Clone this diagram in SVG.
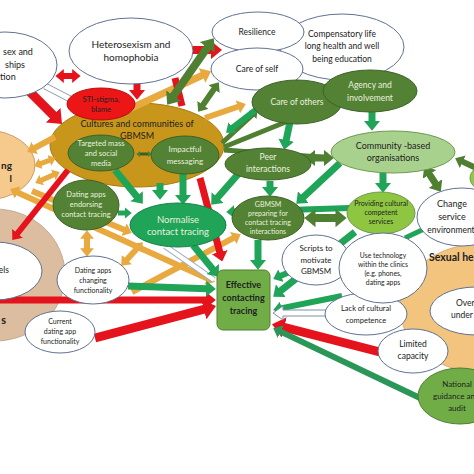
<svg xmlns="http://www.w3.org/2000/svg" width="474" height="474" viewBox="0 0 474 474">
<style>
text{font-family:Lato,"Liberation Sans",sans-serif;text-anchor:middle;fill:#222}
.s{text-anchor:start}
.e{text-anchor:end}
.b{font-weight:bold}
.w{fill:#fff;stroke:#5f7291;stroke-width:1}
.dg{fill:#548235;stroke:#3d6127;stroke-width:1}
.mg{fill:#70ad47;stroke:#507e32;stroke-width:1}
.lt{fill:#e8f1df}
.c path{fill:none}
.r{stroke:#e5131c}
.o{stroke:#4f7f30}
.g{stroke:#1fa458}
.y{stroke:#e8a93e}
.n{stroke:#2a9657}
</style>
<defs>
<marker id="hr" viewBox="0 0 10 10" refX="1" refY="5" markerWidth="1.4" markerHeight="2.3" markerUnits="strokeWidth" orient="auto-start-reverse" preserveAspectRatio="none"><path d="M0,0L10,5L0,10z" fill="#e5131c"/></marker>
<marker id="ho" viewBox="0 0 10 10" refX="1" refY="5" markerWidth="1.4" markerHeight="2.3" markerUnits="strokeWidth" orient="auto-start-reverse" preserveAspectRatio="none"><path d="M0,0L10,5L0,10z" fill="#4f7f30"/></marker>
<marker id="hg" viewBox="0 0 10 10" refX="1" refY="5" markerWidth="1.4" markerHeight="2.3" markerUnits="strokeWidth" orient="auto-start-reverse" preserveAspectRatio="none"><path d="M0,0L10,5L0,10z" fill="#1fa458"/></marker>
<marker id="hy" viewBox="0 0 10 10" refX="1" refY="5" markerWidth="1.4" markerHeight="2.3" markerUnits="strokeWidth" orient="auto-start-reverse" preserveAspectRatio="none"><path d="M0,0L10,5L0,10z" fill="#e8a93e"/></marker>
<marker id="hn" viewBox="0 0 10 10" refX="1" refY="5" markerWidth="1.4" markerHeight="2.3" markerUnits="strokeWidth" orient="auto-start-reverse" preserveAspectRatio="none"><path d="M0,0L10,5L0,10z" fill="#2a9657"/></marker>
</defs>
<rect width="474" height="474" fill="#fff"/>

<g id="left-orange"><ellipse cx="-15" cy="165" rx="50" ry="35" fill="#f6c98c" stroke="#c9a066"/><text class="e b" x="12" y="169" font-size="10">ng</text><text class="e b" x="12" y="182" font-size="10">l</text></g>
<g id="left-tan"><ellipse cx="-5" cy="275" rx="70" ry="66" fill="#dcbd9f" stroke="#b7a08a" stroke-width="0.8"/><text class="e b" x="6" y="324" font-size="11">s</text></g>
<g id="sexual-health"><ellipse cx="480" cy="308" rx="80" ry="64" fill="#f3c47e" stroke="#d2a565" stroke-width="0.8"/><text class="s b" x="429" y="261" font-size="10.5">Sexual he</text></g>
<g id="cultures"><ellipse cx="137" cy="145" rx="87" ry="42" fill="#c8961a" stroke="#a67b10"/><text x="137" y="127" font-size="9" fill="#2e2400">Cultures and communities of</text><text x="137" y="139" font-size="9" fill="#2e2400">GBMSM</text></g>

<g id="connectors" class="c">
<path class="y" stroke-width="7" d="M125,111L203,75" marker-end="url(#hy)"/>
<path class="y" stroke-width="6" d="M205,118L238.6,106.5" marker-end="url(#hy)"/>
<path class="y" stroke-width="6" d="M55,137L34,148.3" marker-end="url(#hy)"/>
<path class="y" stroke-width="5" d="M40,163.8L50,160.2" marker-start="url(#hy)" marker-end="url(#hy)"/>
<path class="y" stroke-width="5" d="M41,180.4L54,174.6" marker-start="url(#hy)" marker-end="url(#hy)"/>
<path class="y" stroke-width="6" d="M17,192.2L208,278.8" marker-start="url(#hy)" marker-end="url(#hy)"/>
<path class="y" stroke-width="6" d="M32,191L124.8,230" marker-end="url(#hy)"/>
<path class="y" stroke-width="6" d="M87,237.8L87,249.2" marker-start="url(#hy)" marker-end="url(#hy)"/>
<path class="y" stroke-width="6" d="M137.7,247.8L126.3,260.2" marker-start="url(#hy)" marker-end="url(#hy)"/>
<path class="y" stroke-width="6" d="M132,292L234,237.7" marker-end="url(#hy)"/>
<path stroke="#8a9ab3" stroke-width="7" d="M45,86L72,100"/>
<path stroke="#fff" stroke-width="5" d="M45,86L72,100"/>
<path stroke="#9aa8c0" stroke-width="6" d="M165,246L214,280"/>
<path stroke="#fff" stroke-width="4" d="M165,246L214,280"/>
<path class="r" stroke-width="7" d="M137,83L137,91" marker-end="url(#hr)"/>
<path class="r" stroke-width="6" d="M63,76L73,76" marker-start="url(#hr)" marker-end="url(#hr)"/>
<path class="r" stroke-width="9" d="M30,92L54,116" marker-end="url(#hr)"/>
<path class="r" stroke-width="8" d="M190,50L212,50" marker-end="url(#hr)"/>
<path class="r" stroke-width="7" d="M175,78L182,106M200,178L220,253" marker-end="url(#hr)"/>
<path class="r" stroke-width="6" d="M68,170L17,234" marker-end="url(#hr)"/>
<path class="r" stroke-width="7" d="M-5,300L207,300" marker-end="url(#hr)"/>
<path class="r" stroke-width="9" d="M95,338L205,309" marker-end="url(#hr)"/>
<path class="r" stroke-width="9" d="M380,352L283,327" marker-end="url(#hr)"/>
<path class="o" stroke-width="8" d="M173,96.5L208,46.5" marker-start="url(#ho)" marker-end="url(#ho)"/>
<path class="o" stroke-width="6" d="M202.5,105.6L214.5,88.4" marker-start="url(#ho)" marker-end="url(#ho)"/>
<path class="o" stroke-width="5" d="M222,143L253,114.5" marker-end="url(#ho)"/>
<path class="o" stroke-width="5" d="M224,147L324,106.5" marker-end="url(#ho)"/>
<path class="o" stroke-width="5" d="M224,150L326.5,157.5" marker-end="url(#ho)"/>
<path class="g" stroke-width="6" d="M258,108L232,128.2" marker-end="url(#hg)"/>
<path class="g" stroke-width="7" d="M290,122L286,141" marker-end="url(#hg)"/>
<path class="g" stroke-width="7" d="M372,112L372,122" marker-end="url(#hg)"/>
<path class="o" stroke-width="7" d="M314,158L325,158" marker-start="url(#ho)" marker-end="url(#ho)"/>
<path class="g" stroke-width="7" d="M270,181L270,188" marker-end="url(#hg)"/>
<path class="g" stroke-width="7" d="M340,163L302.7,197.8" marker-end="url(#hg)"/>
<path class="g" stroke-width="7" d="M383,172L383,184" marker-end="url(#hg)"/>
<path class="o" stroke-width="7" d="M429,173.6L436,184.4" marker-start="url(#ho)" marker-end="url(#ho)"/>
<path class="g" stroke-width="6" d="M350,208L233.8,211.7" marker-end="url(#hg)"/>
<path class="o" stroke-width="8" d="M314.4,218L336.6,218" marker-start="url(#ho)" marker-end="url(#ho)"/>
<path class="g" stroke-width="7" d="M258,240L258,261" marker-end="url(#hg)"/>
<path class="g" stroke-width="7" d="M193,245L213.3,269.9" marker-end="url(#hg)"/>
<path class="g" stroke-width="7" d="M128,286L207,288.7" marker-end="url(#hg)"/>
<path class="g" stroke-width="7" d="M183,172L183,196" marker-end="url(#hg)"/>
<path class="g" stroke-width="7" d="M115,170L137.2,197" marker-end="url(#hg)"/>
<path class="g" stroke-width="7" d="M160,183L160,191" marker-end="url(#hg)"/>
<path class="g" stroke-width="5" d="M118,213L125.5,213" marker-end="url(#hg)"/>
<path class="g" stroke-width="7" d="M240,172L217,198.2" marker-end="url(#hg)"/>
<path class="g" stroke-width="7" d="M355,232L280.1,291.3" marker-end="url(#hg)"/>
<path class="g" stroke-width="6" d="M292,271L280.2,276" marker-end="url(#hg)"/>
<path class="g" stroke-width="6" d="M342,296L280.6,308.4" marker-end="url(#hg)"/>
<path class="g" stroke-width="5" d="M405,238L424,229"/>
<path class="n" stroke-width="6" d="M420,398L280,331.4" marker-end="url(#hn)"/>
<path d="M327,310L283,310L283,306L273,313L283,320L283,316L327,316Z" style="fill:#fff;stroke:#7f8fa8;stroke-width:1"/>
<path class="o" stroke-width="6" d="M462,161.4L476,168" marker-start="url(#ho)" marker-end="url(#ho)"/>
<path stroke="#3c5f24" stroke-width="3" d="M140,154L148,154" marker-start="url(#ho)" marker-end="url(#ho)"/>
</g>

<g id="relationships-education"><ellipse class="w" cx="5" cy="65" rx="52" ry="33"/><text class="s" x="3" y="55" font-size="9">sex and</text><text class="s" x="5" y="68" font-size="9">ships</text><text class="s" x="0" y="80" font-size="9">tion</text></g>
<g id="heterosexism"><ellipse class="w" cx="131" cy="51" rx="62" ry="33"/><text x="131" y="48" font-size="10">Heterosexism  and</text><text x="131" y="61" font-size="10">homophobia</text></g>
<g id="sti-stigma"><ellipse cx="101" cy="104" rx="34" ry="16" fill="#ec1616" stroke="#b80d0d"/><text x="101" y="102" font-size="7.5" fill="#fff">STI-stigma,</text><text x="101" y="112" font-size="7.5" fill="#fff">blame</text></g>
<g id="targeted-media"><ellipse class="dg" cx="101" cy="153" rx="33" ry="18"/><text class="lt" x="101" y="146" font-size="7.5">Targeted mass</text><text class="lt" x="101" y="156" font-size="7.5">and social</text><text class="lt" x="101" y="166" font-size="7.5">media</text></g>
<g id="impactful-messaging"><ellipse class="dg" cx="185" cy="155" rx="34" ry="19"/><text class="lt" x="185" y="152" font-size="8">Impactful</text><text class="lt" x="185" y="164" font-size="8">messaging</text></g>
<g id="dating-endorsing"><ellipse class="dg" cx="86" cy="205" rx="33" ry="25"/><text class="lt" x="86" y="197" font-size="7.5">Dating apps</text><text class="lt" x="86" y="207" font-size="7.5">endorsing</text><text class="lt" x="86" y="217" font-size="7.5">contact tracing</text></g>
<g id="normalise"><ellipse cx="178" cy="225" rx="48" ry="22" fill="#1fa458" stroke="#17804a"/><text class="lt" x="178" y="223" font-size="9.5">Normalise</text><text class="lt" x="178" y="235" font-size="9.5">contact tracing</text></g>
<g id="dating-changing"><ellipse class="w" cx="93" cy="280" rx="36" ry="24"/><text x="93" y="273" font-size="7">Dating apps</text><text x="93" y="283" font-size="7">changing</text><text x="93" y="293" font-size="7">functionality</text></g>
<g id="current-dating"><ellipse class="w" cx="60" cy="332" rx="35" ry="21"/><text x="60" y="324" font-size="7">Current</text><text x="60" y="334" font-size="7">dating app</text><text x="60" y="344" font-size="7">functionality</text></g>
<g id="left-white"><ellipse class="w" cx="-5" cy="271" rx="47" ry="29"/><text class="e" x="9" y="273" font-size="8.5">els</text></g>
<g id="effective"><rect x="217" y="270" width="53" height="60" rx="6" fill="#70ad47" stroke="#507e32"/><text class="b" x="243.5" y="288" font-size="9" fill="#1b2b10">Effective</text><text class="b" x="243.5" y="301" font-size="9" fill="#1b2b10">contacting</text><text class="b" x="243.5" y="314" font-size="9" fill="#1b2b10">tracing</text></g>
<g id="compensatory"><ellipse class="w" cx="342" cy="47" rx="62" ry="33"/><text x="342" y="37" font-size="8.5">Compensatory life</text><text x="342" y="49" font-size="8.5">long health and well</text><text x="342" y="62" font-size="8.5">being education</text></g>
<g id="resilience"><ellipse class="w" cx="258" cy="32" rx="46" ry="20"/><text x="257" y="35" font-size="8.5">Resilience</text></g>
<g id="care-self"><ellipse class="w" cx="257" cy="69" rx="46" ry="21"/><text x="257" y="72" font-size="8.5">Care of self</text></g>
<g id="care-others"><ellipse class="dg" cx="297" cy="102" rx="45" ry="22"/><text class="lt" x="297" y="105" font-size="8.5">Care of others</text></g>
<g id="agency"><ellipse class="dg" cx="370" cy="91" rx="47" ry="21"/><text class="lt" x="370" y="88" font-size="8.5">Agency and</text><text class="lt" x="370" y="101" font-size="8.5">involvement</text></g>
<g id="peer"><ellipse class="dg" cx="268" cy="164" rx="43" ry="16"/><text class="lt" x="268" y="160" font-size="8.5">Peer</text><text class="lt" x="268" y="172" font-size="8.5">interactions</text></g>
<g id="gbmsm-preparing"><ellipse class="dg" cx="268" cy="218" rx="36" ry="22"/><text class="lt" x="268" y="207" font-size="7">GBMSM</text><text class="lt" x="268" y="216" font-size="7">preparing for</text><text class="lt" x="268" y="225" font-size="7">contact tracing</text><text class="lt" x="268" y="234" font-size="7">interactions</text></g>
<g id="community"><ellipse cx="393" cy="152" rx="62" ry="21" fill="#a9d18e" stroke="#6d9a4e"/><text x="393" y="149" font-size="9">Community -based</text><text x="393" y="161" font-size="9">organisations</text></g>
<g id="right-green"><ellipse cx="490" cy="178" rx="20" ry="14" fill="#92c84a" stroke="#6d9a4e"/></g>
<g id="providing"><ellipse cx="381" cy="213" rx="34" ry="21" fill="#8fc641" stroke="#6d9a4e"/><text x="381" y="206" font-size="7" fill="#1d3b0f">Providing cultural</text><text x="381" y="215" font-size="7" fill="#1d3b0f">competent</text><text x="381" y="224" font-size="7" fill="#1d3b0f">services</text></g>
<g id="change-service"><ellipse class="w" cx="462" cy="217" rx="45" ry="29"/><text x="452" y="207" font-size="9">Change</text><text x="452" y="220" font-size="9">service</text><text x="451" y="233" font-size="8.5">environment</text></g>
<g id="scripts"><ellipse class="w" cx="316" cy="260" rx="34" ry="25"/><text x="316" y="251" font-size="8">Scripts to</text><text x="316" y="263" font-size="8">motivate</text><text x="316" y="274" font-size="8">GBMSM</text></g>
<g id="lack-competence"><ellipse class="w" cx="366" cy="314" rx="41" ry="21"/><text x="366" y="311" font-size="7.5">Lack of cultural</text><text x="366" y="323" font-size="7.5">competence</text></g>
<g id="use-technology"><ellipse class="w" cx="383" cy="268" rx="44" ry="35"/><text x="383" y="258" font-size="6.8">Use technology</text><text x="383" y="267" font-size="6.8">within the clinics</text><text x="383" y="276" font-size="6.8">(e.g. phones,</text><text x="383" y="285" font-size="6.8">dating apps</text></g>
<g id="over-under"><ellipse class="w" cx="476" cy="311" rx="46" ry="24"/><text class="s" x="456" y="306" font-size="8.5">Over</text><text class="s" x="451" y="318" font-size="8.5">under</text></g>
<g id="limited-capacity"><ellipse class="w" cx="413" cy="351" rx="35" ry="22"/><text x="413" y="347" font-size="8.5">Limited</text><text x="413" y="359" font-size="8.5">capacity</text></g>
<g id="national-guidance"><ellipse class="mg" cx="460" cy="396" rx="42" ry="28"/><text x="457" y="387" font-size="8">National</text><text class="s" x="433" y="399" font-size="8">guidance an</text><text x="457" y="411" font-size="8">audit</text></g>
</svg>
